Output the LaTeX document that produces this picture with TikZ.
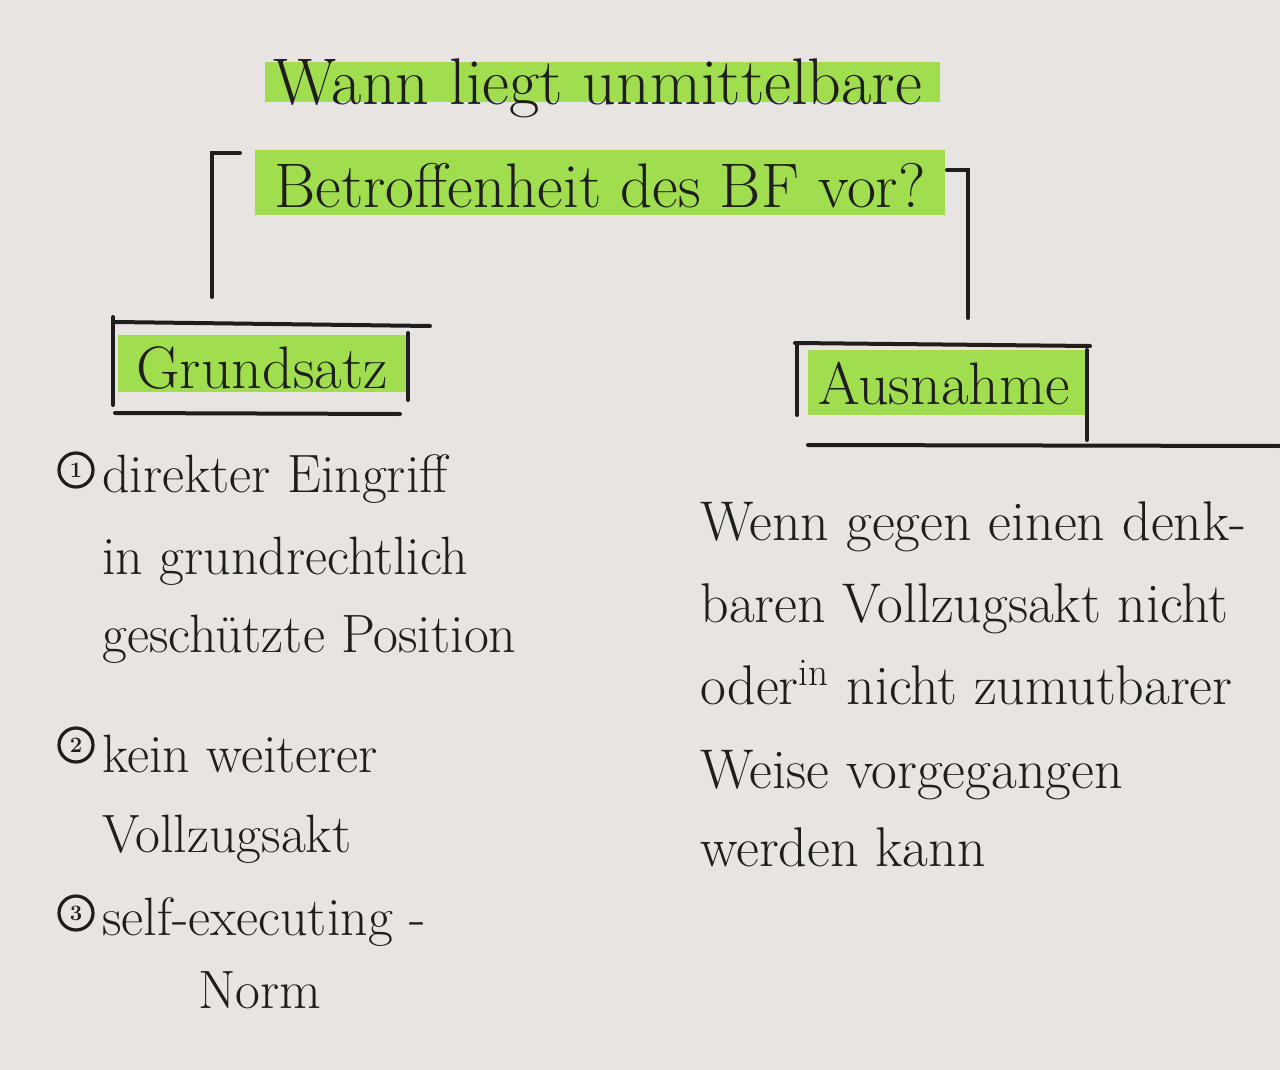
\documentclass[tikz,border=0pt]{standalone}
\usepackage{fontspec}
\definecolor{paper}{RGB}{231,228,225}
\definecolor{hl}{RGB}{160,222,80}
\definecolor{ink}{RGB}{32,30,28}
\tikzset{
  pen/.style={draw=ink, line width=2pt, line cap=round},
  hlbar/.style={fill=hl, draw=none},
  ttl/.style={text=ink, inner sep=0pt, font=\fontsize{33}{38}\selectfont},
  ttlb/.style={ttl, font=\fontsize{31.5}{38}\selectfont},
  head/.style={text=ink, inner sep=0pt, font=\fontsize{30}{36}\selectfont},
  txt/.style={text=ink, anchor=base west, inner sep=0pt, font=\fontsize{27}{32}\selectfont},
  rtxt/.style={txt, font=\fontsize{28}{32}\selectfont},
  num/.style={circle, draw=ink, line width=1.6pt, inner sep=0pt, minimum size=17pt, text=ink, font=\fontsize{11}{13}\selectfont\bfseries},
}
\begin{document}
\begin{tikzpicture}[x=0.5pt,y=-0.5pt]
\fill[paper] (0,0) rectangle (1280,1070);
\useasboundingbox (0,0) rectangle (1280,1070);

% highlights
\fill[hlbar] (265,62) rectangle (940,102);
\fill[hlbar] (255,150) rectangle (945,215);
\fill[hlbar] (118,335) rectangle (408,392);
\fill[hlbar] (808,350) rectangle (1085,415);

% title
\node[ttl] (t1) at (598,88) {Wann liegt unmittelbare};
\node[ttlb] (t2) at (600,186) {Betroffenheit des BF vor?};

% headings
\node[head] (grund) at (262,368) {Grundsatz};
\node[head] (aus) at (944,384) {Ausnahme};

% bracket connector
\coordinate (bl0) at (240,153);
\coordinate (bl1) at (212,153);
\coordinate (bl2) at (212,297);
\coordinate (br0) at (947,170);
\coordinate (br1) at (968,170);
\coordinate (br2) at (968,318);
\draw[pen] (bl0) -- (bl1) -- (bl2);
\draw[pen] (br0) -- (br1) -- (br2);

% Grundsatz frame
\coordinate (g1) at (115,322);
\coordinate (g2) at (430,326);
\coordinate (g3) at (115,413);
\coordinate (g4) at (400,414);
\draw[pen] (g1) -- (g2);
\draw[pen] (g3) -- (g4);
\draw[pen] (113,317) -- (113,405);
\draw[pen] (408,333) -- (408,400);

% Ausnahme frame
\coordinate (a1) at (795,343);
\coordinate (a2) at (1090,346);
\coordinate (a3) at (808,445);
\coordinate (a4) at (1280,446);
\draw[pen] (a1) -- (a2);
\draw[pen] (a3) -- (a4);
\draw[pen] (797,345) -- (797,415);
\draw[pen] (1087,350) -- (1087,440);

% left list
\node[num] (n1) at (76,470) {1};
\node[txt] (l1) at (102,492) {direkter Eingriff};
\node[txt] (l2) at (102,574) {in grundrechtlich};
\node[txt] (l3) at (102,652) {geschützte Position};
\node[num] (n2) at (76,745) {2};
\node[txt] (l4) at (102,772) {kein weiterer};
\node[txt] (l5) at (102,852) {Vollzugsakt};
\node[num] (n3) at (76,913) {3};
\node[txt] (l6) at (102,935) {self-executing -};
\node[txt] (l7) at (198,1008) {Norm};

% right text
\node[rtxt] (r1) at (700,540) {Wenn gegen einen denk-};
\node[rtxt] (r2) at (700,622) {baren Vollzugsakt nicht};
\node[rtxt] (r3) at (700,704) {oder\textsuperscript{in} nicht zumutbarer};
\node[rtxt] (r4) at (700,788) {Weise vorgegangen};
\node[rtxt] (r5) at (700,866) {werden kann};
\end{tikzpicture}
\end{document}
